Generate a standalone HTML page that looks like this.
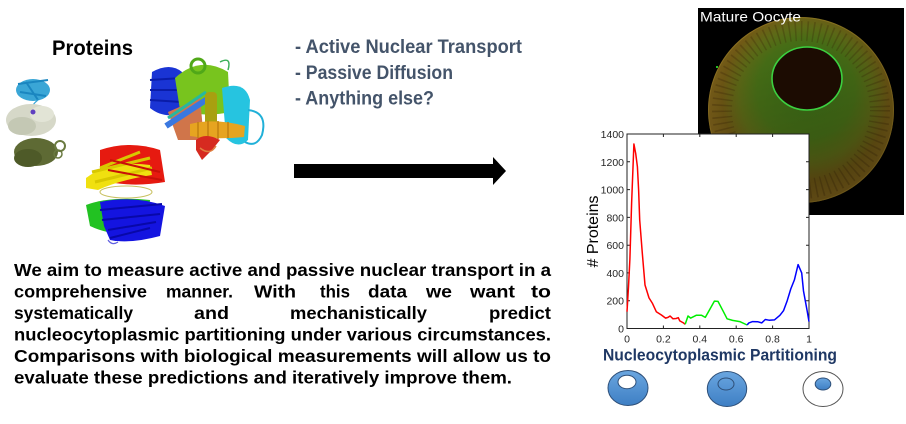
<!DOCTYPE html>
<html><head><meta charset="utf-8">
<style>
html,body{margin:0;padding:0;background:#fff;}
svg{display:block;}
text{font-family:"Liberation Sans",Arial,sans-serif;}
.b{font-weight:bold;}
</style></head>
<body>
<svg width="906" height="424" viewBox="0 0 906 424" xmlns="http://www.w3.org/2000/svg">
<defs>
<radialGradient id="ring" gradientUnits="userSpaceOnUse" cx="805" cy="100" r="98" fx="807" fy="80">
<stop offset="0" stop-color="#3c7418"/>
<stop offset="0.5" stop-color="#4c7618"/>
<stop offset="0.68" stop-color="#627018"/>
<stop offset="0.85" stop-color="#765e16"/>
<stop offset="1" stop-color="#84661c"/>
</radialGradient>
<linearGradient id="shade" x1="0" y1="0" x2="0.3" y2="1">
<stop offset="0" stop-color="#000" stop-opacity="0"/>
<stop offset="1" stop-color="#000" stop-opacity="0.3"/>
</linearGradient>
<linearGradient id="cell" x1="0" y1="0" x2="0" y2="1">
<stop offset="0" stop-color="#6aa6e0"/>
<stop offset="1" stop-color="#3e7fc4"/>
</linearGradient>
</defs>

<!-- Proteins title -->
<text x="52" y="55" class="b" font-size="21" textLength="81" lengthAdjust="spacingAndGlyphs" fill="#000">Proteins</text>

<!-- Protein 1 -->
<g>
<ellipse cx="33" cy="90" rx="17" ry="11" fill="#3aa6d6"/>
<path d="M18 84 L48 80 M20 92 L46 96 M26 82 L38 100" stroke="#1a86c0" stroke-width="2" fill="none"/>
<path d="M38 100 Q30 106 34 110" stroke="#3aa6d6" stroke-width="1.2" fill="none"/>
<ellipse cx="31" cy="120" rx="25" ry="16" fill="#d6d8c8"/>
<ellipse cx="22" cy="126" rx="14" ry="9" fill="#c4c8b4"/>
<ellipse cx="42" cy="114" rx="12" ry="8" fill="#e2e4d6"/>
<circle cx="33" cy="112" r="2.5" fill="#6040c0"/>
<ellipse cx="36" cy="152" rx="22" ry="14" fill="#5e6a34"/>
<ellipse cx="28" cy="158" rx="14" ry="9" fill="#4e5a28"/>
<circle cx="60" cy="146" r="5" fill="none" stroke="#6a7a40" stroke-width="2"/>
<circle cx="58" cy="154" r="4" fill="none" stroke="#6a7a40" stroke-width="1.5"/>
</g>

<!-- Protein 2 -->
<g>
<path d="M152 72 Q170 62 182 72 L184 112 Q165 120 150 108 Z" fill="#1a34d4"/>
<path d="M150 80 L182 78 M150 90 L182 90 M150 100 L182 102" stroke="#0a1ca8" stroke-width="2"/>
<path d="M175 78 Q200 55 228 72 L230 112 Q205 118 180 110 Z" fill="#78c41e"/>
<circle cx="198" cy="66" r="7" fill="none" stroke="#50a818" stroke-width="3"/>
<path d="M220 62 Q232 56 228 70" stroke="#3cb05a" stroke-width="1.5" fill="none"/>
<path d="M222 88 Q245 80 250 100 L248 140 Q238 150 226 138 Z" fill="#26c4e0"/>
<path d="M248 110 Q268 112 262 135 Q256 148 245 142" stroke="#20b0d8" stroke-width="2" fill="none"/>
<path d="M168 112 L200 98 L204 140 L178 140 Z" fill="#d0754a"/>
<path d="M166 126 L212 96" stroke="#3a78e0" stroke-width="6"/>
<path d="M168 118 L206 92" stroke="#26b8a0" stroke-width="3"/>
<rect x="205" y="92" width="12" height="38" rx="4" fill="#a8a010"/>
<path d="M190 124 Q215 118 245 126 L244 137 Q215 140 190 136 Z" fill="#e6a420"/>
<path d="M198 122 L198 138 M208 121 L208 139 M218 121 L218 139 M228 122 L228 138" stroke="#c08010" stroke-width="1.5"/>
<path d="M196 140 Q205 132 220 140 L212 150 L202 160 L196 150 Z" fill="#d62a20"/>
<path d="M200 148 Q210 156 216 146" stroke="#e08040" stroke-width="1.5" fill="none"/>
</g>

<!-- Protein 3 -->
<g>
<path d="M100 150 Q130 140 160 150 L165 182 Q130 188 100 180 Z" fill="#e61a10"/>
<path d="M86 178 Q110 160 150 165 L152 175 Q120 180 98 190 L86 188 Z" fill="#f0e010"/>
<path d="M92 172 L150 158 M95 182 L152 168 M100 168 L140 152" stroke="#d8c800" stroke-width="3"/>
<path d="M110 160 L160 172 M108 170 L162 180" stroke="#c81008" stroke-width="2"/>
<ellipse cx="126" cy="192" rx="26" ry="6" fill="#fff" stroke="#c8c060" stroke-width="1"/>
<path d="M86 205 Q110 196 150 200 L148 232 Q115 238 90 226 Z" fill="#22c222"/>
<path d="M100 202 Q135 195 165 206 L160 236 Q130 244 110 240 L104 226 Z" fill="#1414e0"/>
<path d="M100 210 L162 204 M102 220 L160 214 M108 230 L156 222 M110 238 L150 228" stroke="#0808a8" stroke-width="2"/>
<path d="M108 240 Q112 246 118 242" stroke="#6060e0" stroke-width="1.2" fill="none"/>
</g>

<!-- Bullets -->
<text x="295" y="53" class="b" font-size="19" fill="#44546a" textLength="227" lengthAdjust="spacingAndGlyphs">- Active Nuclear Transport</text>
<text x="295" y="79" class="b" font-size="19" fill="#44546a" textLength="158" lengthAdjust="spacingAndGlyphs">- Passive Diffusion</text>
<text x="295" y="104.5" class="b" font-size="19" fill="#44546a" textLength="139" lengthAdjust="spacingAndGlyphs">- Anything else?</text>

<!-- Arrow -->
<path d="M294 164 L493 164 L493 157 L506 171 L493 185 L493 178 L294 178 Z" fill="#000"/>

<!-- Paragraph -->
<g class="b" font-size="17.5" fill="#000">
<text x="14" y="276" class="b" textLength="537" lengthAdjust="spacingAndGlyphs">We aim to measure active and passive nuclear transport in a</text>
<text x="14" y="297.5" class="b" textLength="133" lengthAdjust="spacingAndGlyphs">comprehensive</text>
<text x="166" y="297.5" class="b" textLength="67" lengthAdjust="spacingAndGlyphs">manner.</text>
<text x="254" y="297.5" class="b" textLength="42" lengthAdjust="spacingAndGlyphs">With</text>
<text x="320" y="297.5" class="b" textLength="30" lengthAdjust="spacingAndGlyphs">this</text>
<text x="368" y="297.5" class="b" textLength="39" lengthAdjust="spacingAndGlyphs">data</text>
<text x="426" y="297.5" class="b" textLength="26" lengthAdjust="spacingAndGlyphs">we</text>
<text x="470" y="297.5" class="b" textLength="45" lengthAdjust="spacingAndGlyphs">want</text>
<text x="531" y="297.5" class="b" textLength="20" lengthAdjust="spacingAndGlyphs">to</text>
<text x="14" y="319" class="b" textLength="119" lengthAdjust="spacingAndGlyphs">systematically</text>
<text x="194" y="319" class="b" textLength="35" lengthAdjust="spacingAndGlyphs">and</text>
<text x="290" y="319" class="b" textLength="137" lengthAdjust="spacingAndGlyphs">mechanistically</text>
<text x="489" y="319" class="b" textLength="62" lengthAdjust="spacingAndGlyphs">predict</text>
<text x="14" y="340.5" class="b" textLength="537" lengthAdjust="spacingAndGlyphs">nucleocytoplasmic partitioning under various circumstances.</text>
<text x="14" y="362" class="b" textLength="537" lengthAdjust="spacingAndGlyphs">Comparisons with biological measurements will allow us to</text>
<text x="14" y="383.5" class="b" textLength="498" lengthAdjust="spacingAndGlyphs">evaluate these predictions and iteratively improve them.</text>
</g>

<!-- Oocyte image -->
<rect x="698" y="8" width="206" height="207" fill="#000"/>
<circle cx="801" cy="110" r="93" fill="url(#ring)"/>
<circle cx="801" cy="110" r="79" fill="none" stroke="#3a2406" stroke-opacity="0.28" stroke-width="20" stroke-dasharray="1.5 4.5"/>
<circle cx="801" cy="110" r="92.5" fill="none" stroke="#b09030" stroke-opacity="0.45" stroke-width="1"/>
<circle cx="801" cy="110" r="93" fill="url(#shade)"/>
<ellipse cx="807" cy="78.5" rx="35" ry="31.5" fill="#1c0c02" stroke="#3cd040" stroke-width="1.6"/>
<circle cx="717" cy="67" r="1" fill="#30ff30"/>
<text x="700" y="21.5" font-size="14" fill="#fff" textLength="101" lengthAdjust="spacingAndGlyphs">Mature Oocyte</text>

<!-- Chart -->
<rect x="627" y="134" width="182" height="194.5" fill="#fff" stroke="#222" stroke-width="1"/>
<g stroke="#222" stroke-width="1">
<path d="M627 300.7h3M627 272.9h3M627 245.2h3M627 217.4h3M627 189.6h3M627 161.8h3"/>
<path d="M809 300.7h-3M809 272.9h-3M809 245.2h-3M809 217.4h-3M809 189.6h-3M809 161.8h-3"/>
<path d="M663.4 328.5v-3M699.8 328.5v-3M736.2 328.5v-3M772.6 328.5v-3"/>
<path d="M663.4 134v3M699.8 134v3M736.2 134v3M772.6 134v3"/>
</g>
<g font-size="10.5" fill="#262626" text-anchor="end">
<text x="624" y="332.5">0</text>
<text x="624" y="304.7">200</text>
<text x="624" y="276.9">400</text>
<text x="624" y="249.2">600</text>
<text x="624" y="221.4">800</text>
<text x="624" y="193.6">1000</text>
<text x="624" y="165.8">1200</text>
<text x="624" y="138">1400</text>
</g>
<g font-size="10.5" fill="#262626" text-anchor="middle">
<text x="627" y="342.5">0</text>
<text x="663.4" y="342.5">0.2</text>
<text x="699.8" y="342.5">0.4</text>
<text x="736.2" y="342.5">0.6</text>
<text x="772.6" y="342.5">0.8</text>
<text x="809" y="342.5">1</text>
</g>
<text transform="translate(598,231.5) rotate(-90)" font-size="16" fill="#000" text-anchor="middle">#  Proteins</text>

<polyline fill="none" stroke="#ff0000" stroke-width="1.5" stroke-linejoin="round" points="627,311.7 628.5,286.8 629.9,259 631.6,203.5 633.9,144 635.7,153.5 637.4,166.7 638.6,189.6 639.7,220 642.3,253.1 645,285 649,297.9 652.3,303.1 656.3,311.7 661.4,315 665.6,318.1 668,317.4 670.1,316 673,318.8 676.1,318.5 678.3,317.7 679.8,320.9 683.4,322.9 685.2,324.3"/>
<polyline fill="none" stroke="#00ee00" stroke-width="1.5" stroke-linejoin="round" points="685.2,324.3 688,316 690.7,318.1 696.2,315.3 701.6,315.3 705.3,317.4 710.7,307.7 714.4,301.1 718,301.4 723.5,311.8 727.1,318.8 732.6,320.4 739.8,321.6 747.1,325"/>
<polyline fill="none" stroke="#0000ff" stroke-width="1.5" stroke-linejoin="round" points="747.1,325 748.9,322.9 752.6,321.6 758,321.8 761.7,322.9 765.3,319.5 769,320.2 774.4,319.9 779.9,315.3 783.5,310.7 787.2,300.7 790.8,288.9 794.4,279.9 798.1,264.6 801.7,272.9 803.5,291 807.2,311.1 809,321.6"/>

<text x="603" y="360.5" class="b" font-size="16.5" fill="#1f3864" textLength="234" lengthAdjust="spacingAndGlyphs">Nucleocytoplasmic Partitioning</text>

<!-- Cells -->
<ellipse cx="628" cy="388" rx="20" ry="17.5" fill="url(#cell)" stroke="#2e4f78" stroke-width="1"/>
<ellipse cx="627" cy="382" rx="9" ry="6.7" fill="#fff" stroke="#2e4f78" stroke-width="1"/>
<ellipse cx="727" cy="389" rx="19.7" ry="17.5" fill="url(#cell)" stroke="#2e4f78" stroke-width="1"/>
<ellipse cx="726" cy="384" rx="8" ry="6" fill="none" stroke="#2e4f78" stroke-width="1"/>
<ellipse cx="823" cy="389" rx="20" ry="17.5" fill="#fff" stroke="#555" stroke-width="1"/>
<ellipse cx="823" cy="384" rx="7.8" ry="6" fill="url(#cell)" stroke="#2e4f78" stroke-width="1"/>
</svg>
</body></html>
